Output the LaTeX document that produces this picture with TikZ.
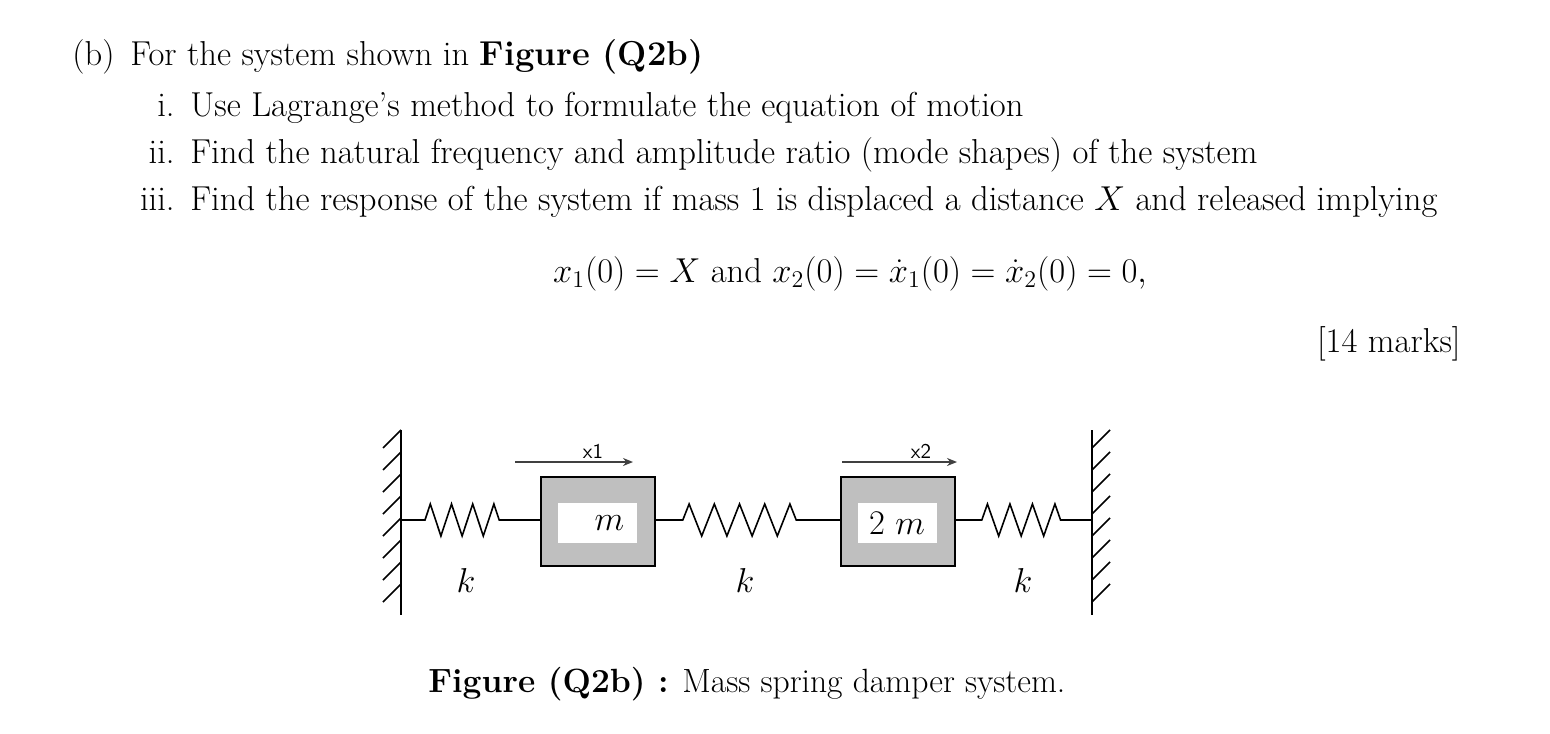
\documentclass[tikz,border=0pt]{standalone}
\usetikzlibrary{decorations.pathmorphing,arrows.meta}
\begin{document}
\begin{tikzpicture}[x=0.5pt,y=-0.5pt,
  txt/.style={anchor=base west,inner sep=0pt,font=\fontsize{17.3}{20}\selectfont},
  mass/.style={draw,line width=0.8pt,fill=black!25,minimum width=57pt,minimum height=44.5pt,inner sep=0pt},
  lab/.style={fill=white,minimum width=39.5pt,minimum height=20pt,inner sep=0pt,font=\fontsize{17}{18}\selectfont},
  spr/.style={line width=0.8pt},
  wall/.style={line width=1pt},
  hatch/.style={line width=0.8pt},
  motion/.style={draw=black!75,line width=1.2pt,-{Stealth[length=5pt,width=4pt]}}]
\useasboundingbox (0,0) rectangle (1550,733);
\node[txt] (t1) at (72,66) {(b)};
\node[txt] (t1b) at (130,66) {For the system shown in \textbf{Figure (Q2b)}};
\node[txt,anchor=base east] (i1) at (175,117) {i.};
\node[txt] (l1) at (190,117) {Use Lagrange's method to formulate the equation of motion};
\node[txt,anchor=base east] (i2) at (175,163) {ii.};
\node[txt] (l2) at (190,163) {Find the natural frequency and amplitude ratio (mode shapes) of the system};
\node[txt,anchor=base east] (i3) at (175,210) {iii.};
\node[txt] (l3) at (190,210) {Find the response of the system if mass 1 is displaced a distance $X$ and released implying};
\node[txt,anchor=base] (eq) at (850,282) {$x_1(0)=X$ and $x_2(0)=\dot x_1(0)=\dot x_2(0)=0,$};
\node[txt,anchor=base east] (mk) at (1461,352) {[14 marks]};
\node[txt,font=\fontsize{16.8}{20}\selectfont] (cap) at (428,692) {\textbf{Figure (Q2b) :} Mass spring damper system.};
% walls
\coordinate (wlt) at (401,430); \coordinate (wlb) at (401,615);
\coordinate (wrt) at (1092,430); \coordinate (wrb) at (1092,615);
\draw[wall] (wlt) -- (wlb);
\draw[wall] (wrt) -- (wrb);
\foreach \y in {430,452,...,600} \draw[hatch] (401,\y) -- (383,\y+18);
\foreach \y in {448,470,...,615} \draw[hatch] (1092,\y) -- (1110,\y-18);
% masses
\node[mass] (m1) at (598,521.5) {};
\node[lab] (m1l) at (597.5,523) {\hspace{12pt}$m$};
\node[mass] (m2) at (898,521.5) {};
\node[lab] (m2l) at (897,523) {$2\ m$};
\coordinate (wl) at (401,520); \coordinate (wr) at (1092,520);
\draw[spr,decorate,decoration={zigzag,segment length=10.6pt,amplitude=8pt,pre length=12pt,post length=15.5pt}] (wl) -- (m1.west|-wl);
\draw[spr,decorate,decoration={zigzag,segment length=12.6pt,amplitude=8pt,pre length=13.5pt,post length=17pt}] (m1.east|-wl) -- (m2.west|-wl);
\draw[spr,decorate,decoration={zigzag,segment length=11.25pt,amplitude=8pt,pre length=13pt,post length=11pt}] (m2.east|-wl) -- (wr);
% arrows
\coordinate (a1s) at (515,462); \coordinate (a1e) at (633,462);
\coordinate (a2s) at (842,462); \coordinate (a2e) at (957,462);
\draw[motion] (a1s) -- (a1e);
\draw[motion] (a2s) -- (a2e);
\node[font=\sffamily\fontsize{10.5}{12}\selectfont,inner sep=0pt] (x1) at (593,451) {x1};
\node[font=\sffamily\fontsize{10.5}{12}\selectfont,inner sep=0pt] (x2) at (921,451) {x2};
\node[font=\fontsize{18}{20}\selectfont,inner sep=0pt] (k1) at (466,580) {$k$};
\node[font=\fontsize{18}{20}\selectfont,inner sep=0pt] (k2) at (745,580) {$k$};
\node[font=\fontsize{18}{20}\selectfont,inner sep=0pt] (k3) at (1023,580) {$k$};
\end{tikzpicture}
\end{document}
